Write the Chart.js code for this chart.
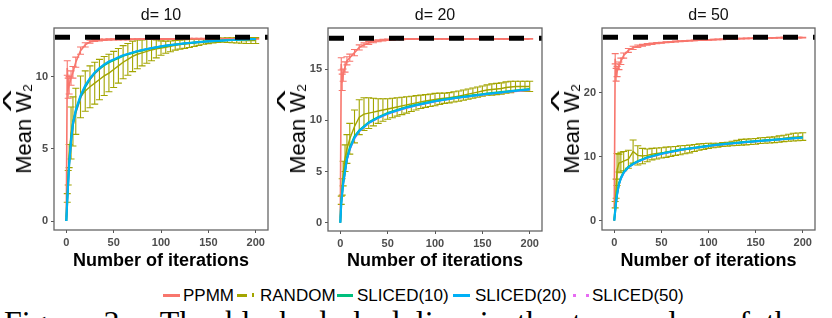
<!DOCTYPE html>
<html><head><meta charset="utf-8">
<script src="https://cdn.jsdelivr.net/npm/chart.js@4.4.1/dist/chart.umd.min.js"></script>
<style>
html,body{margin:0;padding:0;background:#fff;width:832px;height:318px;overflow:hidden;position:relative;font-family:'Liberation Sans',Arial,sans-serif;}
canvas{position:absolute;top:0;}
.t{position:absolute;white-space:nowrap;color:#111;line-height:1;}
.ptitle{font-size:16px;transform:translateX(-50%);}
.xtitle{font-size:18px;font-weight:bold;transform:translateX(-50%);color:#000;}
.ytitle{font-size:22px;transform:translate(-50%,-50%) rotate(-90deg);color:#000;}
.ytitle .w{position:relative;display:inline-block;}
.ytitle .hat{position:absolute;left:50%;top:-0.62em;transform:translateX(-40%) scale(2.3,1.1);font-size:0.9em;}
.ytitle sub{font-size:0.62em;vertical-align:-0.05em;}
.leg{font-size:17px;color:#000;}
.key{position:absolute;}
.cap{font-family:'Liberation Serif','Times New Roman',serif;font-size:32px;color:#000;word-spacing:8px;}
</style></head><body>
<canvas id="c0" width="275" height="275" style="left:0px"></canvas>
<canvas id="c1" width="275" height="275" style="left:275px"></canvas>
<canvas id="c2" width="282" height="275" style="left:550px"></canvas>
<div id="overlay"></div>
<script>
// ---------------- data ----------------
const iterations = [0,1,2,3,5,7,10,15,20,25,30,35,40,45,50,55,60,65,70,75,80,85,90,95,100,105,110,115,120,125,130,135,140,145,150,155,160,165,170,175,180,185,190,195,200];
const xTicks = [0,50,100,150,200];
const dims = [10,20,50];
const trueW2 = [12.73, 18.0, 28.65];
const yTicks_d10 = [0,5,10];
const yTicks_d20 = [0,5,10,15];
const yTicks_d50 = [0,10,20];
const seriesNames = ['PPMM','RANDOM','SLICED(10)','SLICED(20)','SLICED(50)'];

// d = 10
const ppmm_d10 = [0.3,10.6,9.2,9.4,9.9,10.3,11.0,
 11.8,12.2,12.42,12.5,12.54,12.56,12.57,12.58,12.58,12.59,12.59,12.59,12.6,
 12.6,12.6,12.6,12.6,12.61,12.61,12.61,12.61,12.61,12.61,
 12.62,12.62,12.62,12.62,12.62,12.62,12.62,12.62,12.62,12.62,
 12.62,12.62,12.62,12.62,12.62];
const ppmm_err_d10 = [0,0.5,0.7,0.6,0.5,0.4,0.35,
 0.25,0.15,0.1,0.07,0.06,0.05,0.05,0.04,0.04,0.04,0.04,0.03,0.03,
 0.03,0.03,0.03,0.03,0.03,0.03,0.03,0.03,0.03,0.03,
 0.03,0.03,0.03,0.03,0.03,0.03,0.03,0.03,0.03,0.03,
 0.03,0.03,0.03,0.03,0.03];
const random_d10 = [0.0,1.6,3.0,4.5,6.1,6.9,7.6,
 8.6,9.0,9.3,9.55,9.8,10.05,10.25,10.5,10.75,11.0,11.2,11.4,11.55,
 11.65,11.75,11.85,11.92,11.98,12.04,12.1,12.17,12.22,12.26,
 12.3,12.35,12.4,12.44,12.47,12.5,12.52,12.53,12.53,12.52,
 12.51,12.5,12.5,12.5,12.5];
const random_err_d10 = [0,0.3,0.5,0.8,1.8,1.7,1.6,
 1.45,1.4,1.45,1.45,1.4,1.35,1.3,1.25,1.2,1.15,1.1,1.05,1.0,
 0.9,0.82,0.75,0.62,0.5,0.42,0.37,0.33,0.31,0.3,
 0.28,0.26,0.23,0.2,0.18,0.16,0.15,0.15,0.16,0.17,
 0.18,0.19,0.2,0.2,0.2];
const sliced10_d10 = [0.0,1.5,2.8,4.0,5.6,6.7,7.6,
 8.6,9.3,9.85,10.25,10.55,10.8,11.0,11.15,11.3,11.45,11.55,11.65,11.75,
 11.82,11.9,11.97,12.03,12.08,12.13,12.18,12.22,12.26,12.3,
 12.33,12.36,12.39,12.42,12.44,12.46,12.48,12.5,12.52,12.54,
 12.55,12.56,12.58,12.59,12.6];
const sliced20_d10 = [0.0,1.4,2.6,3.9,5.5,6.8,7.7,
 8.7,9.4,9.9,10.3,10.6,10.85,11.05,11.2,11.35,11.48,11.58,11.68,11.77,
 11.85,11.92,11.98,12.04,12.1,12.15,12.19,12.23,12.27,12.31,
 12.34,12.37,12.4,12.42,12.45,12.47,12.49,12.51,12.53,12.54,
 12.56,12.57,12.58,12.6,12.61];
const sliced50_d10 = [0.0,1.3,2.5,3.8,5.4,6.6,7.5,
 8.5,9.3,9.8,10.2,10.5,10.8,11.0,11.15,11.3,11.45,11.56,11.66,11.75,
 11.83,11.9,11.97,12.03,12.09,12.14,12.18,12.22,12.26,12.3,
 12.33,12.36,12.39,12.42,12.44,12.46,12.48,12.5,12.52,12.54,
 12.55,12.57,12.58,12.6,12.62];

// d = 20
const ppmm_d20 = [0.5,15.5,13.7,14.4,15.2,15.8,16.1,
 16.6,17.1,17.35,17.55,17.68,17.76,17.82,17.86,17.88,17.9,17.91,17.92,17.92,
 17.93,17.93,17.93,17.93,17.93,17.93,17.93,17.93,17.93,17.93,
 17.93,17.93,17.93,17.93,17.93,17.93,17.93,17.93,17.93,17.93,
 17.93,17.93,17.93,17.93,17.93];
const ppmm_err_d20 = [0,0.6,0.8,0.6,0.5,0.4,0.35,
 0.3,0.25,0.2,0.15,0.12,0.1,0.08,0.07,0.06,0.05,0.05,0.04,0.04,
 0.03,0.03,0.03,0.03,0.03,0.03,0.03,0.03,0.03,0.03,
 0.03,0.03,0.03,0.03,0.03,0.03,0.03,0.03,0.03,0.03,
 0.03,0.03,0.03,0.03,0.03];
const random_d20 = [0.0,2.2,3.5,4.8,6.3,7.2,8.2,
 9.4,10.3,10.6,10.7,10.8,10.9,11.0,11.1,11.2,11.3,11.4,11.5,11.6,
 11.7,11.8,11.88,11.95,12.02,12.1,12.15,12.2,12.28,12.36,
 12.45,12.55,12.65,12.75,12.85,12.95,13.0,13.05,13.1,13.2,
 13.25,13.3,13.3,13.3,13.3];
const random_err_d20 = [0,0.4,0.8,1.2,1.3,1.4,1.5,
 1.6,1.7,1.6,1.5,1.35,1.2,1.1,1.0,0.95,0.9,0.85,0.8,0.75,
 0.7,0.65,0.62,0.6,0.6,0.55,0.5,0.5,0.5,0.5,
 0.5,0.5,0.5,0.5,0.5,0.5,0.55,0.55,0.55,0.55,
 0.55,0.5,0.5,0.5,0.5];
const sliced10_d20 = [0.0,2.0,3.0,3.9,5.1,6.3,7.3,
 8.4,9.0,9.4,9.8,10.05,10.3,10.5,10.7,10.85,11.0,11.15,11.28,11.4,
 11.5,11.6,11.7,11.8,11.88,11.96,12.04,12.11,12.18,12.24,
 12.3,12.36,12.42,12.48,12.54,12.6,12.65,12.7,12.75,12.8,
 12.85,12.9,12.95,13.0,13.05];
const sliced20_d20 = [0.0,1.9,2.9,3.8,5.0,6.2,7.2,
 8.3,8.95,9.35,9.75,10.0,10.25,10.45,10.65,10.8,10.95,11.1,11.23,11.35,
 11.46,11.56,11.66,11.76,11.85,11.93,12.01,12.08,12.15,12.21,
 12.27,12.33,12.39,12.45,12.51,12.57,12.62,12.67,12.72,12.77,
 12.82,12.87,12.92,12.96,13.0];
const sliced50_d20 = [0.0,1.8,2.8,3.7,4.9,6.1,7.1,
 8.2,8.9,9.3,9.7,9.95,10.2,10.4,10.6,10.75,10.9,11.05,11.18,11.3,
 11.42,11.52,11.62,11.72,11.81,11.9,11.98,12.05,12.12,12.18,
 12.24,12.3,12.36,12.42,12.48,12.54,12.59,12.64,12.69,12.74,
 12.78,12.82,12.86,12.9,12.93];

// d = 50
const ppmm_d50 = [2.0,25.3,22.8,23.3,24.2,24.9,25.8,
 26.6,27.0,27.25,27.4,27.55,27.65,27.73,27.8,27.87,27.93,27.98,28.03,28.07,
 28.11,28.15,28.19,28.22,28.25,28.28,28.31,28.34,28.37,28.4,
 28.43,28.45,28.47,28.49,28.51,28.53,28.55,28.56,28.57,28.58,
 28.59,28.6,28.6,28.61,28.61];
const ppmm_err_d50 = [0,0.8,1.0,0.8,0.6,0.5,0.4,
 0.3,0.25,0.2,0.15,0.12,0.1,0.1,0.08,0.08,0.07,0.07,0.06,0.06,
 0.05,0.05,0.05,0.05,0.05,0.05,0.05,0.05,0.05,0.05,
 0.05,0.05,0.05,0.05,0.05,0.05,0.05,0.05,0.05,0.05,
 0.05,0.05,0.05,0.05,0.05];
const random_d50 = [0.0,2.5,5.0,8.0,9.0,9.1,9.3,
 9.6,10.8,10.2,10.1,10.2,10.4,10.5,10.6,10.7,10.8,10.9,11.0,11.1,
 11.2,11.35,11.5,11.6,11.7,11.75,11.8,11.9,11.95,12.05,
 12.15,12.25,12.3,12.35,12.4,12.5,12.55,12.6,12.65,12.75,
 12.85,12.95,13.05,13.1,13.15];
const random_err_d50 = [0,0.5,1.5,2.5,1.4,1.6,1.5,
 1.4,1.8,1.5,1.2,1.0,0.9,0.85,0.8,0.8,0.75,0.7,0.7,0.65,
 0.6,0.55,0.5,0.45,0.4,0.35,0.3,0.3,0.3,0.35,
 0.4,0.45,0.45,0.45,0.45,0.45,0.45,0.45,0.45,0.5,
 0.5,0.55,0.6,0.6,0.6];
const sliced10_d50 = [0.0,1.6,3.0,4.2,5.8,6.7,7.6,
 8.4,8.9,9.3,9.6,9.9,10.1,10.3,10.5,10.65,10.8,10.95,11.1,11.2,
 11.3,11.4,11.5,11.6,11.7,11.8,11.88,11.96,12.04,12.1,
 12.17,12.24,12.3,12.36,12.42,12.48,12.54,12.6,12.66,12.72,
 12.78,12.84,12.9,12.95,13.0];
const sliced20_d50 = [0.0,1.5,2.9,4.1,5.7,6.6,7.5,
 8.35,8.85,9.25,9.55,9.85,10.05,10.25,10.45,10.6,10.75,10.9,11.05,11.16,
 11.27,11.37,11.47,11.57,11.67,11.77,11.85,11.93,12.01,12.08,
 12.15,12.22,12.28,12.34,12.4,12.46,12.52,12.58,12.64,12.7,
 12.76,12.82,12.88,12.93,12.98];
const sliced50_d50 = [0.0,1.4,2.8,4.0,5.6,6.5,7.4,
 8.3,8.8,9.2,9.5,9.8,10.0,10.2,10.4,10.55,10.7,10.85,11.0,11.12,
 11.23,11.33,11.43,11.53,11.63,11.73,11.81,11.89,11.97,12.04,
 12.11,12.18,12.24,12.3,12.36,12.42,12.48,12.54,12.6,12.66,
 12.72,12.78,12.84,12.9,12.95];

// ---------------- styling / layout ----------------
const colors = ['#F8766D','#A3A500','#00BF7D','#00B0F6','#E76BF3'];
const lineWidths = [1.6,1.4,2.2,2.0,1.6];
const drawOrder = [4,3,1,0,2]; // lower = drawn on top
const panels = [
  {canvas:'c0', left:0,   width:275, area:{l:54, r:268, t:28, b:230}, yMin:-0.62, yMax:13.37, yTicks:yTicks_d10,
   series:[ppmm_d10, random_d10, sliced10_d10, sliced20_d10, sliced50_d10],
   errs:[[ppmm_d10, ppmm_err_d10, colors[0]], [random_d10, random_err_d10, colors[1]]]},
  {canvas:'c1', left:275, width:275, area:{l:53, r:267, t:28, b:231}, yMin:-0.8, yMax:19.0, yTicks:yTicks_d20,
   series:[ppmm_d20, random_d20, sliced10_d20, sliced20_d20, sliced50_d20],
   errs:[[ppmm_d20, ppmm_err_d20, colors[0]], [random_d20, random_err_d20, colors[1]]]},
  {canvas:'c2', left:550, width:282, area:{l:52, r:265, t:28, b:230}, yMin:-1.45, yMax:30.1, yTicks:yTicks_d50,
   series:[ppmm_d50, random_d50, sliced10_d50, sliced20_d50, sliced50_d50],
   errs:[[ppmm_d50, ppmm_err_d50, colors[0]], [random_d50, random_err_d50, colors[1]]]}
];
const CANVAS_H = 275;
const panelById = {};
panels.forEach((p,i)=>{ p.truth = trueW2[i]; p.d = dims[i]; panelById[p.canvas] = p; });

const decor = {
  id:'decor',
  beforeDatasetsDraw(chart){
    const p = panelById[chart.canvas.id];
    const {ctx, chartArea:a, scales:{x,y}} = chart;
    ctx.save();
    ctx.beginPath(); ctx.rect(a.left, a.top, a.right-a.left, a.bottom-a.top); ctx.clip();
    ctx.lineWidth = 1.1;
    p.errs.forEach(([mean, err, col])=>{
      ctx.strokeStyle = col;
      iterations.forEach((it,i)=>{
        if (!err[i]) return;
        const px = x.getPixelForValue(it);
        const t = y.getPixelForValue(mean[i]+err[i]);
        const b = y.getPixelForValue(mean[i]-err[i]);
        ctx.beginPath();
        ctx.moveTo(px, t); ctx.lineTo(px, b);
        ctx.moveTo(px-3.5, t); ctx.lineTo(px+3.5, t);
        ctx.moveTo(px-3.5, b); ctx.lineTo(px+3.5, b);
        ctx.stroke();
      });
    });
    ctx.restore();
  },
  afterDatasetsDraw(chart){
    const p = panelById[chart.canvas.id];
    const {ctx, chartArea:a, scales:{y}} = chart;
    ctx.save();
    ctx.beginPath(); ctx.rect(a.left, a.top, a.right-a.left, a.bottom-a.top); ctx.clip();
    const yy = y.getPixelForValue(p.truth);
    ctx.strokeStyle = '#000'; ctx.lineWidth = 5; ctx.setLineDash([15,15]); ctx.lineCap='butt';
    ctx.beginPath(); ctx.moveTo(a.left+1, yy); ctx.lineTo(a.right, yy); ctx.stroke();
    ctx.restore();
    ctx.save();
    ctx.strokeStyle = '#666'; ctx.lineWidth = 1.3;
    ctx.strokeRect(a.left, a.top, a.right-a.left, a.bottom-a.top);
    ctx.restore();
  }
};

const tickFont = {family:"'Liberation Sans', Arial, sans-serif", size:11, weight:'bold'};
panels.forEach(p=>{
  const ctx = document.getElementById(p.canvas).getContext('2d');
  new Chart(ctx, {
    type:'line',
    data:{datasets: p.series.map((vals,k)=>({
      label: seriesNames[k],
      data: iterations.map((it,i)=>({x:it, y:vals[i]})),
      borderColor: colors[k], backgroundColor: colors[k],
      borderWidth: lineWidths[k], pointRadius: 0, tension: 0, order: drawOrder[k]
    }))},
    options:{
      responsive:false, animation:false, devicePixelRatio:1,
      layout:{padding:{top:p.area.t, right:p.width-p.area.r, bottom:0, left:0}},
      plugins:{legend:{display:false}, tooltip:{enabled:false}, title:{display:false}},
      scales:{
        x:{type:'linear', min:-13, max:213,
           afterBuildTicks:s=>{ s.ticks = xTicks.map(v=>({value:v})); },
           afterFit:s=>{ s.height = CANVAS_H - p.area.b; },
           grid:{drawOnChartArea:false, drawTicks:true, tickLength:3, color:'#555', lineWidth:1},
           border:{display:false},
           ticks:{font:tickFont, color:'#4d4d4d', padding:3, maxRotation:0, autoSkip:false}},
        y:{type:'linear', min:p.yMin, max:p.yMax,
           afterBuildTicks:s=>{ s.ticks = p.yTicks.map(v=>({value:v})); },
           afterFit:s=>{ s.width = p.area.l; },
           grid:{drawOnChartArea:false, drawTicks:true, tickLength:3, color:'#555', lineWidth:1},
           border:{display:false},
           ticks:{font:tickFont, color:'#4d4d4d', padding:3, autoSkip:false}}
      }
    },
    plugins:[decor]
  });
});

// ---------------- text overlays ----------------
const ov = document.getElementById('overlay');
function addDiv(cls, html, style){ const d=document.createElement('div'); d.className='t '+cls; d.innerHTML=html; Object.assign(d.style, style); ov.appendChild(d); return d; }
panels.forEach(p=>{
  const cx = p.left + (p.area.l + p.area.r)/2;
  addDiv('ptitle', 'd= ' + p.d, {left: cx+'px', top:'7px'});
  addDiv('xtitle', 'Number of iterations', {left: cx+'px', top:'251px'});
  addDiv('ytitle', 'Mean <span class="w">W<span class="hat">^</span></span><sub>2</sub>', {left:(p.left + p.area.l - 30)+'px', top:'129px'});
});
// legend
const legendKeys = [
  {name:seriesNames[0], key:[{x:163,w:17,h:3,c:colors[0]}], tx:183},
  {name:seriesNames[1], key:[{x:237,w:10,h:3,c:colors[1]},{x:252,w:2,h:4,c:colors[1]}], tx:260},
  {name:seriesNames[2], key:[{x:337,w:16,h:3,c:colors[2]}], tx:357},
  {name:seriesNames[3], key:[{x:453,w:17,h:3,c:colors[3]}], tx:475},
  {name:seriesNames[4], key:[{x:573,w:3,h:3,c:colors[4]},{x:586,w:3,h:3,c:colors[4]}], tx:592}
];
legendKeys.forEach(it=>{
  it.key.forEach(k=>{ const s=document.createElement('div'); s.className='key'; Object.assign(s.style,{left:k.x+'px', top:(295-k.h/2)+'px', width:k.w+'px', height:k.h+'px', background:k.c}); ov.appendChild(s); });
  addDiv('leg', it.name, {left: it.tx+'px', top:'287px'});
});
addDiv('cap', 'Figure 3:&nbsp; The black dashed line is the true value of the', {left:'4px', top:'306px'});
</script>
</body></html>
